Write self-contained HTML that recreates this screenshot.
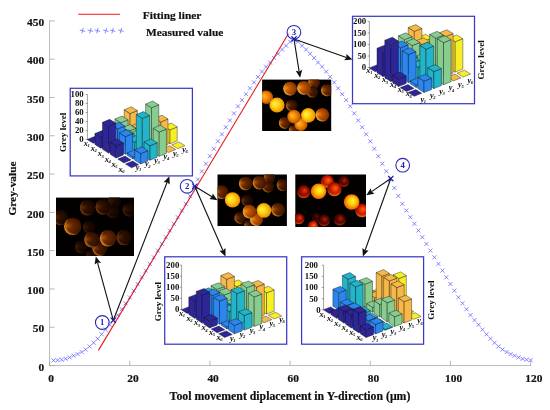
<!DOCTYPE html>
<html><head><meta charset="utf-8"><title>Grey-value vs tool displacement</title>
<style>html,body{margin:0;padding:0;background:#fff;overflow:hidden}svg{display:block}</style>
</head><body>
<svg width="550" height="410" viewBox="0 0 550 410">
<defs>
<radialGradient id="o0" cx="0.5" cy="0.5" r="0.52" fx="0.3" fy="0.4"><stop offset="0" stop-color="#fff640"/><stop offset="0.5" stop-color="#ffd014"/><stop offset="1" stop-color="#ec8600"/></radialGradient>
<radialGradient id="o1" cx="0.5" cy="0.5" r="0.52" fx="0.3" fy="0.4"><stop offset="0" stop-color="#ffc030"/><stop offset="0.5" stop-color="#f48a04"/><stop offset="1" stop-color="#b84c00"/></radialGradient>
<radialGradient id="o2" cx="0.5" cy="0.5" r="0.52" fx="0.13" fy="0.45"><stop offset="0" stop-color="#f89414"/><stop offset="0.4" stop-color="#c45800"/><stop offset="1" stop-color="#7c2e00"/></radialGradient>
<radialGradient id="o3" cx="0.5" cy="0.5" r="0.52" fx="0.13" fy="0.45"><stop offset="0" stop-color="#b05c0c"/><stop offset="0.4" stop-color="#6c2800"/><stop offset="1" stop-color="#3a1400"/></radialGradient>
<radialGradient id="o4" cx="0.5" cy="0.5" r="0.52" fx="0.13" fy="0.45"><stop offset="0" stop-color="#8a440a"/><stop offset="0.4" stop-color="#4c1c00"/><stop offset="1" stop-color="#260c00"/></radialGradient>
<radialGradient id="o5" cx="0.5" cy="0.5" r="0.52" fx="0.13" fy="0.45"><stop offset="0" stop-color="#5a2a06"/><stop offset="0.4" stop-color="#2e1000"/><stop offset="1" stop-color="#160600"/></radialGradient>
<radialGradient id="o6" cx="0.5" cy="0.5" r="0.52" fx="0.13" fy="0.45"><stop offset="0" stop-color="#3a1a04"/><stop offset="0.4" stop-color="#1e0a00"/><stop offset="1" stop-color="#0c0300"/></radialGradient>
<radialGradient id="oc2" cx="0.64" cy="0.42" r="0.66"><stop offset="0.7" stop-color="#ffc848" stop-opacity="0"/><stop offset="1" stop-color="#ffc848" stop-opacity="0.95"/></radialGradient>
<radialGradient id="oc3" cx="0.64" cy="0.42" r="0.66"><stop offset="0.7" stop-color="#ffa828" stop-opacity="0"/><stop offset="1" stop-color="#ffa828" stop-opacity="0.95"/></radialGradient>
<radialGradient id="oc4" cx="0.64" cy="0.42" r="0.66"><stop offset="0.7" stop-color="#e07818" stop-opacity="0"/><stop offset="1" stop-color="#e07818" stop-opacity="0.95"/></radialGradient>
<radialGradient id="oc5" cx="0.64" cy="0.42" r="0.66"><stop offset="0.7" stop-color="#8a400c" stop-opacity="0"/><stop offset="1" stop-color="#8a400c" stop-opacity="0.95"/></radialGradient>
<radialGradient id="oc6" cx="0.64" cy="0.42" r="0.66"><stop offset="0.7" stop-color="#4c2006" stop-opacity="0"/><stop offset="1" stop-color="#4c2006" stop-opacity="0.95"/></radialGradient>
<radialGradient id="rc2" cx="0.5" cy="0.3" r="0.72"><stop offset="0.66" stop-color="#ff9020" stop-opacity="0"/><stop offset="1" stop-color="#ff9020" stop-opacity="0.95"/></radialGradient>
<radialGradient id="rc3" cx="0.5" cy="0.3" r="0.72"><stop offset="0.66" stop-color="#ff5a10" stop-opacity="0"/><stop offset="1" stop-color="#ff5a10" stop-opacity="0.95"/></radialGradient>
<radialGradient id="rc4" cx="0.5" cy="0.3" r="0.72"><stop offset="0.66" stop-color="#c83008" stop-opacity="0"/><stop offset="1" stop-color="#c83008" stop-opacity="0.95"/></radialGradient>
<radialGradient id="rc5" cx="0.5" cy="0.3" r="0.72"><stop offset="0.66" stop-color="#781804" stop-opacity="0"/><stop offset="1" stop-color="#781804" stop-opacity="0.95"/></radialGradient>
<radialGradient id="r0" cx="0.5" cy="0.5" r="0.52" fx="0.6" fy="0.4"><stop offset="0" stop-color="#fff638"/><stop offset="0.5" stop-color="#ffc808"/><stop offset="1" stop-color="#f25000"/></radialGradient>
<radialGradient id="r1" cx="0.5" cy="0.5" r="0.52" fx="0.6" fy="0.4"><stop offset="0" stop-color="#ffb020"/><stop offset="0.5" stop-color="#f85000"/><stop offset="1" stop-color="#b01000"/></radialGradient>
<radialGradient id="r2" cx="0.5" cy="0.5" r="0.52" fx="0.6" fy="0.4"><stop offset="0" stop-color="#ff6a0c"/><stop offset="0.5" stop-color="#d82400"/><stop offset="1" stop-color="#7c0600"/></radialGradient>
<radialGradient id="r3" cx="0.5" cy="0.5" r="0.52" fx="0.6" fy="0.4"><stop offset="0" stop-color="#e83c06"/><stop offset="0.5" stop-color="#a01000"/><stop offset="1" stop-color="#480000"/></radialGradient>
<radialGradient id="r4" cx="0.5" cy="0.5" r="0.52" fx="0.6" fy="0.4"><stop offset="0" stop-color="#a82004"/><stop offset="0.5" stop-color="#640800"/><stop offset="1" stop-color="#240000"/></radialGradient>
<radialGradient id="r5" cx="0.5" cy="0.5" r="0.52" fx="0.6" fy="0.4"><stop offset="0" stop-color="#601002"/><stop offset="0.5" stop-color="#340400"/><stop offset="1" stop-color="#100000"/></radialGradient>
<clipPath id="pc1"><rect x="56" y="197.6" width="78" height="58.4"/></clipPath>
<clipPath id="pc2"><rect x="217.5" y="174.5" width="69.4" height="51.5"/></clipPath>
<clipPath id="pc3"><rect x="262.1" y="79.6" width="69.1" height="51.4"/></clipPath>
<clipPath id="pc4"><rect x="295.3" y="174.5" width="70.7" height="52.5"/></clipPath>
</defs>
<rect width="550" height="410" fill="#fff"/>
<g stroke="#bdbdbd" stroke-width="1" fill="none">
<path d="M49.55 20.4V365.55H531.2"/>
<path d="M49.5 365.55h5.2" stroke="#a4a4a4" stroke-width="0.8"/>
<path d="M49.5 327.25h5.2" stroke="#a4a4a4" stroke-width="0.8"/>
<path d="M49.5 288.96h5.2" stroke="#a4a4a4" stroke-width="0.8"/>
<path d="M49.5 250.67h5.2" stroke="#a4a4a4" stroke-width="0.8"/>
<path d="M49.5 212.37h5.2" stroke="#a4a4a4" stroke-width="0.8"/>
<path d="M49.5 174.08h5.2" stroke="#a4a4a4" stroke-width="0.8"/>
<path d="M49.5 135.78h5.2" stroke="#a4a4a4" stroke-width="0.8"/>
<path d="M49.5 97.49h5.2" stroke="#a4a4a4" stroke-width="0.8"/>
<path d="M49.5 59.19h5.2" stroke="#a4a4a4" stroke-width="0.8"/>
<path d="M49.5 20.89h5.2" stroke="#a4a4a4" stroke-width="0.8"/>
<path d="M49.55 365.6v-4.8" stroke="#a4a4a4" stroke-width="0.8"/>
<path d="M129.73 365.6v-4.8" stroke="#a4a4a4" stroke-width="0.8"/>
<path d="M209.90 365.6v-4.8" stroke="#a4a4a4" stroke-width="0.8"/>
<path d="M290.08 365.6v-4.8" stroke="#a4a4a4" stroke-width="0.8"/>
<path d="M370.25 365.6v-4.8" stroke="#a4a4a4" stroke-width="0.8"/>
<path d="M450.43 365.6v-4.8" stroke="#a4a4a4" stroke-width="0.8"/>
<path d="M530.61 365.6v-4.8" stroke="#a4a4a4" stroke-width="0.8"/>
</g>
<g font-family="'Liberation Serif', serif" font-weight="bold" font-size="11.4" fill="#111" stroke="#111" stroke-width="0.2">
<text x="44.2" y="370.7" text-anchor="end">0</text>
<text x="44.2" y="332.4" text-anchor="end">50</text>
<text x="44.2" y="294.1" text-anchor="end">100</text>
<text x="44.2" y="255.8" text-anchor="end">150</text>
<text x="44.2" y="217.5" text-anchor="end">200</text>
<text x="44.2" y="179.2" text-anchor="end">250</text>
<text x="44.2" y="140.9" text-anchor="end">300</text>
<text x="44.2" y="102.6" text-anchor="end">350</text>
<text x="44.2" y="64.3" text-anchor="end">400</text>
<text x="44.2" y="26.0" text-anchor="end">450</text>
<text x="51.0" y="381.7" text-anchor="middle">0</text>
<text x="132.9" y="381.7" text-anchor="middle">20</text>
<text x="213.1" y="381.7" text-anchor="middle">40</text>
<text x="293.3" y="381.7" text-anchor="middle">60</text>
<text x="373.5" y="381.7" text-anchor="middle">80</text>
<text x="453.6" y="381.7" text-anchor="middle">100</text>
<text x="533.8" y="381.7" text-anchor="middle">120</text>
<text x="290" y="399.6" text-anchor="middle" font-size="11.8">Tool movement diplacement in Y-direction (μm)</text>
<text transform="translate(15.6 188.5) rotate(-90)" text-anchor="middle" font-size="11.4">Grey-value</text>
<text x="142.8" y="18.5" font-size="11.4">Fitting liner</text>
<text x="146" y="35.7" font-size="11.4">Measured value</text>
</g>
<path d="M78.3 14.3H119.9" stroke="#f41414" stroke-width="1.05"/>
<g stroke="#7070ff" stroke-width="0.75" fill="none">
<path transform="translate(82.5 30.7) rotate(15)" d="M-2.8 0H2.8M0 -2.8V2.8"/>
<path transform="translate(90.4 30.7) rotate(15)" d="M-2.8 0H2.8M0 -2.8V2.8"/>
<path transform="translate(97.4 30.7) rotate(15)" d="M-2.8 0H2.8M0 -2.8V2.8"/>
<path transform="translate(105.9 30.7) rotate(15)" d="M-2.8 0H2.8M0 -2.8V2.8"/>
<path transform="translate(112.6 30.7) rotate(15)" d="M-2.8 0H2.8M0 -2.8V2.8"/>
<path transform="translate(120.9 30.7) rotate(15)" d="M-2.8 0H2.8M0 -2.8V2.8"/>
</g>
<path d="M51.6 358.4l4 4m0 -4l-4 4M55.6 358.2l4 4m0 -4l-4 4M59.6 357.7l4 4m0 -4l-4 4M63.6 356.8l4 4m0 -4l-4 4M67.6 355.4l4 4m0 -4l-4 4M71.6 353.7l4 4m0 -4l-4 4M75.6 352.1l4 4m0 -4l-4 4M79.6 350.0l4 4m0 -4l-4 4M83.6 347.5l4 4m0 -4l-4 4M87.6 344.4l4 4m0 -4l-4 4M91.6 340.8l4 4m0 -4l-4 4M95.7 336.7l4 4m0 -4l-4 4M99.7 332.3l4 4m0 -4l-4 4M103.7 327.6l4 4m0 -4l-4 4M107.7 322.8l4 4m0 -4l-4 4M111.7 318.1l4 4m0 -4l-4 4M115.7 313.1l4 4m0 -4l-4 4M119.7 307.2l4 4m0 -4l-4 4M123.7 301.3l4 4m0 -4l-4 4M127.7 295.3l4 4m0 -4l-4 4M131.7 288.7l4 4m0 -4l-4 4M135.7 282.0l4 4m0 -4l-4 4M139.8 275.3l4 4m0 -4l-4 4M143.8 268.6l4 4m0 -4l-4 4M147.8 261.9l4 4m0 -4l-4 4M151.8 255.3l4 4m0 -4l-4 4M155.8 248.6l4 4m0 -4l-4 4M159.8 241.9l4 4m0 -4l-4 4M163.8 235.2l4 4m0 -4l-4 4M167.8 228.5l4 4m0 -4l-4 4M171.8 221.8l4 4m0 -4l-4 4M175.8 215.2l4 4m0 -4l-4 4M179.8 208.5l4 4m0 -4l-4 4M183.8 201.8l4 4m0 -4l-4 4M187.9 193.9l4 4m0 -4l-4 4M191.9 185.9l4 4m0 -4l-4 4M195.9 177.5l4 4m0 -4l-4 4M199.9 169.3l4 4m0 -4l-4 4M203.9 161.7l4 4m0 -4l-4 4M207.9 154.2l4 4m0 -4l-4 4M211.9 146.8l4 4m0 -4l-4 4M215.9 139.3l4 4m0 -4l-4 4M219.9 132.3l4 4m0 -4l-4 4M223.9 125.3l4 4m0 -4l-4 4M227.9 118.4l4 4m0 -4l-4 4M232.0 111.4l4 4m0 -4l-4 4M236.0 104.3l4 4m0 -4l-4 4M240.0 98.1l4 4m0 -4l-4 4M244.0 92.2l4 4m0 -4l-4 4M248.0 86.3l4 4m0 -4l-4 4M252.0 80.4l4 4m0 -4l-4 4M256.0 74.9l4 4m0 -4l-4 4M260.0 69.6l4 4m0 -4l-4 4M264.0 64.7l4 4m0 -4l-4 4M268.0 60.5l4 4m0 -4l-4 4M272.0 55.9l4 4m0 -4l-4 4M276.1 51.8l4 4m0 -4l-4 4M280.1 47.6l4 4m0 -4l-4 4M284.1 43.7l4 4m0 -4l-4 4M288.1 39.7l4 4m0 -4l-4 4M292.1 36.5l4 4m0 -4l-4 4M296.1 39.7l4 4m0 -4l-4 4M300.1 43.7l4 4m0 -4l-4 4M304.1 47.6l4 4m0 -4l-4 4M308.1 51.8l4 4m0 -4l-4 4M312.1 55.9l4 4m0 -4l-4 4M316.1 60.5l4 4m0 -4l-4 4M320.1 64.7l4 4m0 -4l-4 4M324.2 69.6l4 4m0 -4l-4 4M328.2 74.9l4 4m0 -4l-4 4M332.2 80.4l4 4m0 -4l-4 4M336.2 86.3l4 4m0 -4l-4 4M340.2 92.2l4 4m0 -4l-4 4M344.2 98.1l4 4m0 -4l-4 4M348.2 104.3l4 4m0 -4l-4 4M352.2 111.4l4 4m0 -4l-4 4M356.2 118.4l4 4m0 -4l-4 4M360.2 125.3l4 4m0 -4l-4 4M364.2 132.3l4 4m0 -4l-4 4M368.3 139.3l4 4m0 -4l-4 4M372.3 146.8l4 4m0 -4l-4 4M376.3 154.2l4 4m0 -4l-4 4M380.3 161.7l4 4m0 -4l-4 4M384.3 169.3l4 4m0 -4l-4 4M388.3 177.5l4 4m0 -4l-4 4M392.3 185.9l4 4m0 -4l-4 4M396.3 193.9l4 4m0 -4l-4 4M400.3 201.8l4 4m0 -4l-4 4M404.3 208.5l4 4m0 -4l-4 4M408.3 215.2l4 4m0 -4l-4 4M412.4 221.8l4 4m0 -4l-4 4M416.4 228.5l4 4m0 -4l-4 4M420.4 235.2l4 4m0 -4l-4 4M424.4 241.9l4 4m0 -4l-4 4M428.4 248.6l4 4m0 -4l-4 4M432.4 255.3l4 4m0 -4l-4 4M436.4 261.9l4 4m0 -4l-4 4M440.4 268.6l4 4m0 -4l-4 4M444.4 275.3l4 4m0 -4l-4 4M448.4 282.0l4 4m0 -4l-4 4M452.4 288.7l4 4m0 -4l-4 4M456.4 295.3l4 4m0 -4l-4 4M460.5 301.3l4 4m0 -4l-4 4M464.5 307.2l4 4m0 -4l-4 4M468.5 313.1l4 4m0 -4l-4 4M472.5 318.1l4 4m0 -4l-4 4M476.5 322.8l4 4m0 -4l-4 4M480.5 327.6l4 4m0 -4l-4 4M484.5 332.3l4 4m0 -4l-4 4M488.5 336.7l4 4m0 -4l-4 4M492.5 340.8l4 4m0 -4l-4 4M496.5 344.4l4 4m0 -4l-4 4M500.5 347.5l4 4m0 -4l-4 4M504.6 350.0l4 4m0 -4l-4 4M508.6 352.1l4 4m0 -4l-4 4M512.6 353.7l4 4m0 -4l-4 4M516.6 355.4l4 4m0 -4l-4 4M520.6 356.8l4 4m0 -4l-4 4M524.6 357.7l4 4m0 -4l-4 4M528.6 358.2l4 4m0 -4l-4 4" stroke="#5c5cff" stroke-width="0.75" fill="none"/>
<path d="M98.4 350.4L288.4 33.7" stroke="#e41818" stroke-width="1.08" fill="none"/>
<rect x="56" y="197.6" width="78" height="58.4" fill="#030000"/>
<g clip-path="url(#pc1)">
<circle cx="114.6" cy="200.8" r="6.5" fill="url(#o6)"/>
<circle cx="114.6" cy="200.8" r="6.5" fill="url(#oc6)"/>
<circle cx="129.3" cy="209.6" r="6.8" fill="url(#o6)"/>
<circle cx="129.3" cy="209.6" r="6.8" fill="url(#oc6)"/>
<circle cx="112.8" cy="211.4" r="6.5" fill="url(#o6)"/>
<circle cx="112.8" cy="211.4" r="6.5" fill="url(#oc6)"/>
<circle cx="87.6" cy="207.8" r="7.7" fill="url(#o5)"/>
<circle cx="87.6" cy="207.8" r="7.7" fill="url(#oc5)"/>
<circle cx="103.2" cy="207.0" r="7.7" fill="url(#o5)"/>
<circle cx="103.2" cy="207.0" r="7.7" fill="url(#oc5)"/>
<circle cx="89.4" cy="227.1" r="6.4" fill="url(#o6)"/>
<circle cx="89.4" cy="227.1" r="6.4" fill="url(#oc6)"/>
<circle cx="81.5" cy="246.8" r="6.5" fill="url(#o6)"/>
<circle cx="81.5" cy="246.8" r="6.5" fill="url(#oc6)"/>
<circle cx="91.1" cy="254.8" r="4.9" fill="url(#o6)"/>
<circle cx="91.1" cy="254.8" r="4.9" fill="url(#oc6)"/>
<circle cx="124.1" cy="237.5" r="7.7" fill="url(#o5)"/>
<circle cx="124.1" cy="237.5" r="7.7" fill="url(#oc5)"/>
<circle cx="60.7" cy="217.6" r="7.7" fill="url(#o5)"/>
<circle cx="60.7" cy="217.6" r="7.7" fill="url(#oc5)"/>
<circle cx="99.8" cy="248.5" r="7.4" fill="url(#o4)"/>
<circle cx="99.8" cy="248.5" r="7.4" fill="url(#oc4)"/>
<circle cx="92.0" cy="239.7" r="7.7" fill="url(#o4)"/>
<circle cx="92.0" cy="239.7" r="7.7" fill="url(#oc4)"/>
<circle cx="72.8" cy="226.4" r="8.7" fill="url(#o3)"/>
<circle cx="72.8" cy="226.4" r="8.7" fill="url(#oc3)"/>
<circle cx="108.1" cy="238.3" r="8.3" fill="url(#o3)"/>
<circle cx="108.1" cy="238.3" r="8.3" fill="url(#oc3)"/>
</g>
<rect x="217.5" y="174.5" width="69.4" height="51.5" fill="#030000"/>
<g clip-path="url(#pc2)">
<circle cx="269.6" cy="177.3" r="5.8" fill="url(#o4)"/>
<circle cx="269.6" cy="177.3" r="5.8" fill="url(#oc4)"/>
<circle cx="282.7" cy="185.1" r="6.0" fill="url(#o4)"/>
<circle cx="282.7" cy="185.1" r="6.0" fill="url(#oc4)"/>
<circle cx="268.1" cy="186.7" r="5.8" fill="url(#o4)"/>
<circle cx="268.1" cy="186.7" r="5.8" fill="url(#oc4)"/>
<circle cx="245.7" cy="183.5" r="6.8" fill="url(#o3)"/>
<circle cx="245.7" cy="183.5" r="6.8" fill="url(#oc3)"/>
<circle cx="259.5" cy="182.8" r="6.8" fill="url(#o3)"/>
<circle cx="259.5" cy="182.8" r="6.8" fill="url(#oc3)"/>
<circle cx="247.2" cy="200.5" r="5.7" fill="url(#o5)"/>
<circle cx="247.2" cy="200.5" r="5.7" fill="url(#oc5)"/>
<circle cx="240.2" cy="217.9" r="5.8" fill="url(#o4)"/>
<circle cx="240.2" cy="217.9" r="5.8" fill="url(#oc4)"/>
<circle cx="248.7" cy="224.9" r="4.3" fill="url(#o4)"/>
<circle cx="248.7" cy="224.9" r="4.3" fill="url(#oc4)"/>
<circle cx="278.1" cy="209.7" r="6.8" fill="url(#o3)"/>
<circle cx="278.1" cy="209.7" r="6.8" fill="url(#oc3)"/>
<circle cx="221.7" cy="192.1" r="6.8" fill="url(#o3)"/>
<circle cx="221.7" cy="192.1" r="6.8" fill="url(#oc3)"/>
<circle cx="256.5" cy="219.4" r="6.5" fill="url(#o2)"/>
<circle cx="256.5" cy="219.4" r="6.5" fill="url(#oc2)"/>
<circle cx="249.5" cy="211.6" r="6.8" fill="url(#o2)"/>
<circle cx="249.5" cy="211.6" r="6.8" fill="url(#oc2)"/>
<circle cx="232.5" cy="199.9" r="7.7" fill="url(#o0)"/>
<circle cx="263.9" cy="210.4" r="7.4" fill="url(#o0)"/>
</g>
<rect x="262.1" y="79.6" width="69.1" height="51.4" fill="#030000"/>
<g clip-path="url(#pc3)">
<circle cx="314.0" cy="82.4" r="5.8" fill="url(#o3)"/>
<circle cx="314.0" cy="82.4" r="5.8" fill="url(#oc3)"/>
<circle cx="327.1" cy="90.2" r="6.0" fill="url(#o3)"/>
<circle cx="327.1" cy="90.2" r="6.0" fill="url(#oc3)"/>
<circle cx="312.4" cy="91.8" r="5.8" fill="url(#o4)"/>
<circle cx="312.4" cy="91.8" r="5.8" fill="url(#oc4)"/>
<circle cx="290.1" cy="88.6" r="6.8" fill="url(#o2)"/>
<circle cx="290.1" cy="88.6" r="6.8" fill="url(#oc2)"/>
<circle cx="304.0" cy="87.9" r="6.8" fill="url(#o2)"/>
<circle cx="304.0" cy="87.9" r="6.8" fill="url(#oc2)"/>
<circle cx="291.7" cy="105.5" r="5.7" fill="url(#o4)"/>
<circle cx="291.7" cy="105.5" r="5.7" fill="url(#oc4)"/>
<circle cx="284.7" cy="122.9" r="5.8" fill="url(#o3)"/>
<circle cx="284.7" cy="122.9" r="5.8" fill="url(#oc3)"/>
<circle cx="293.2" cy="129.9" r="4.3" fill="url(#o3)"/>
<circle cx="293.2" cy="129.9" r="4.3" fill="url(#oc3)"/>
<circle cx="322.4" cy="114.7" r="6.8" fill="url(#o2)"/>
<circle cx="322.4" cy="114.7" r="6.8" fill="url(#oc2)"/>
<circle cx="266.2" cy="97.2" r="6.8" fill="url(#o1)"/>
<circle cx="300.9" cy="124.4" r="6.5" fill="url(#o1)"/>
<circle cx="294.0" cy="116.6" r="6.8" fill="url(#o1)"/>
<circle cx="277.0" cy="105.0" r="7.6" fill="url(#o0)"/>
<circle cx="308.3" cy="115.4" r="7.3" fill="url(#o0)"/>
</g>
<rect x="295.3" y="174.5" width="70.7" height="52.5" fill="#030000"/>
<g clip-path="url(#pc4)">
<circle cx="343.8" cy="181.3" r="5.5" fill="url(#r4)"/>
<circle cx="343.8" cy="181.3" r="5.5" fill="url(#rc4)"/>
<circle cx="316.2" cy="217.1" r="4.4" fill="url(#r5)"/>
<circle cx="316.2" cy="217.1" r="4.4" fill="url(#rc5)"/>
<circle cx="339.8" cy="219.5" r="5.9" fill="url(#r4)"/>
<circle cx="339.8" cy="219.5" r="5.9" fill="url(#rc4)"/>
<circle cx="324.1" cy="220.3" r="5.9" fill="url(#r4)"/>
<circle cx="324.1" cy="220.3" r="5.9" fill="url(#rc4)"/>
<circle cx="298.9" cy="218.7" r="5.5" fill="url(#r3)"/>
<circle cx="298.9" cy="218.7" r="5.5" fill="url(#rc3)"/>
<circle cx="313.1" cy="225.9" r="5.1" fill="url(#r2)"/>
<circle cx="313.1" cy="225.9" r="5.1" fill="url(#rc2)"/>
<circle cx="303.7" cy="191.6" r="6.6" fill="url(#r3)"/>
<circle cx="303.7" cy="191.6" r="6.6" fill="url(#rc3)"/>
<circle cx="327.3" cy="181.3" r="6.4" fill="url(#r2)"/>
<circle cx="327.3" cy="181.3" r="6.4" fill="url(#rc2)"/>
<circle cx="334.4" cy="189.3" r="7.0" fill="url(#r2)"/>
<circle cx="334.4" cy="189.3" r="7.0" fill="url(#rc2)"/>
<circle cx="362.0" cy="210.4" r="6.8" fill="url(#r2)"/>
<circle cx="362.0" cy="210.4" r="6.8" fill="url(#rc2)"/>
<circle cx="351.7" cy="202.0" r="7.8" fill="url(#r0)"/>
<circle cx="318.6" cy="191.3" r="7.8" fill="url(#r0)"/>
</g>
<rect x="70.2" y="88.3" width="122.2" height="87.6" fill="#fff" stroke="#3a3ac6" stroke-width="1.25"/>
<g stroke="#444" stroke-width="0.5" fill="none">
<path d="M87.4 139.5V94.5"/>
<path d="M87.4 139.5h-1.8"/>
<path d="M87.4 130.5h-1.8"/>
<path d="M87.4 121.5h-1.8"/>
<path d="M87.4 112.5h-1.8"/>
<path d="M87.4 103.5h-1.8"/>
<path d="M87.4 94.5h-1.8"/>
</g>
<g font-family="'Liberation Serif', serif" font-size="8.8" font-weight="bold" fill="#111" text-anchor="end">
<text x="83.7" y="142.4">0</text>
<text x="83.7" y="133.4">20</text>
<text x="83.7" y="124.4">40</text>
<text x="83.7" y="115.4">60</text>
<text x="83.7" y="106.4">80</text>
<text x="83.7" y="97.4">100</text>
</g>
<g stroke="#101018" stroke-opacity="0.8" stroke-width="0.5" stroke-linejoin="round">
<polygon points="133.4,120.4 139.4,124.2 146.6,121.2 140.6,117.4" fill="#f8ee25"/>
<polygon points="124.2,124.2 130.1,128.0 130.1,113.6 124.2,109.8" fill="#f6b846"/>
<polygon points="130.1,128.0 137.4,125.0 137.4,110.6 130.1,113.6" fill="#f6b846"/>
<polygon points="124.2,109.8 130.1,113.6 137.4,110.6 131.4,106.8" fill="#f6b846"/>
<polygon points="114.9,128.0 120.9,131.8 120.9,122.8 114.9,119.0" fill="#86cd8f"/>
<polygon points="120.9,131.8 128.1,128.9 128.1,119.9 120.9,122.8" fill="#86cd8f"/>
<polygon points="114.9,119.0 120.9,122.8 128.1,119.9 122.1,116.0" fill="#86cd8f"/>
<polygon points="105.7,131.8 111.7,135.7 111.7,131.2 105.7,127.3" fill="#22b4c9"/>
<polygon points="111.7,135.7 118.9,132.7 118.9,128.2 111.7,131.2" fill="#22b4c9"/>
<polygon points="105.7,127.3 111.7,131.2 118.9,128.2 112.9,124.4" fill="#22b4c9"/>
<polygon points="96.4,135.7 102.4,139.5 109.6,136.5 103.7,132.7" fill="#2b87ee"/>
<polygon points="87.2,139.5 93.2,143.3 100.4,140.3 94.4,136.5" fill="#2e2597"/>
<polygon points="141.1,125.3 147.0,129.1 154.3,126.1 148.3,122.3" fill="#f8ee25"/>
<polygon points="131.8,129.1 137.8,132.9 137.8,129.3 131.8,125.5" fill="#f6b846"/>
<polygon points="137.8,132.9 145.0,129.9 145.0,126.3 137.8,129.3" fill="#f6b846"/>
<polygon points="131.8,125.5 137.8,129.3 145.0,126.3 139.0,122.5" fill="#f6b846"/>
<polygon points="122.6,132.9 128.6,136.7 128.6,131.3 122.6,127.5" fill="#86cd8f"/>
<polygon points="128.6,136.7 135.8,133.8 135.8,128.4 128.6,131.3" fill="#86cd8f"/>
<polygon points="122.6,127.5 128.6,131.3 135.8,128.4 129.8,124.5" fill="#86cd8f"/>
<polygon points="113.3,136.7 119.3,140.6 119.3,133.8 113.3,130.0" fill="#22b4c9"/>
<polygon points="119.3,140.6 126.5,137.6 126.5,130.8 119.3,133.8" fill="#22b4c9"/>
<polygon points="113.3,130.0 119.3,133.8 126.5,130.8 120.6,127.0" fill="#22b4c9"/>
<polygon points="104.1,140.6 110.1,144.4 110.1,139.0 104.1,135.2" fill="#2b87ee"/>
<polygon points="110.1,144.4 117.3,141.4 117.3,136.0 110.1,139.0" fill="#2b87ee"/>
<polygon points="104.1,135.2 110.1,139.0 117.3,136.0 111.3,132.2" fill="#2b87ee"/>
<polygon points="94.9,144.4 100.8,148.2 100.8,137.4 94.9,133.6" fill="#2e2597"/>
<polygon points="100.8,148.2 108.1,145.2 108.1,134.4 100.8,137.4" fill="#2e2597"/>
<polygon points="94.9,133.6 100.8,137.4 108.1,134.4 102.1,130.6" fill="#2e2597"/>
<polygon points="148.7,130.2 154.7,134.0 161.9,131.0 155.9,127.2" fill="#f8ee25"/>
<polygon points="139.5,134.0 145.5,137.8 145.5,135.6 139.5,131.7" fill="#f6b846"/>
<polygon points="145.5,137.8 152.7,134.8 152.7,132.6 145.5,135.6" fill="#f6b846"/>
<polygon points="139.5,131.7 145.5,135.6 152.7,132.6 146.7,128.8" fill="#f6b846"/>
<polygon points="130.2,137.8 136.2,141.6 136.2,137.1 130.2,133.3" fill="#86cd8f"/>
<polygon points="136.2,141.6 143.4,138.7 143.4,134.2 136.2,137.1" fill="#86cd8f"/>
<polygon points="130.2,133.3 136.2,137.1 143.4,134.2 137.5,130.3" fill="#86cd8f"/>
<polygon points="121.0,141.6 127.0,145.5 127.0,136.5 121.0,132.6" fill="#22b4c9"/>
<polygon points="127.0,145.5 134.2,142.5 134.2,133.5 127.0,136.5" fill="#22b4c9"/>
<polygon points="121.0,132.6 127.0,136.5 134.2,133.5 128.2,129.7" fill="#22b4c9"/>
<polygon points="111.8,145.5 117.7,149.3 117.7,129.0 111.8,125.2" fill="#2b87ee"/>
<polygon points="117.7,149.3 125.0,146.3 125.0,126.1 117.7,129.0" fill="#2b87ee"/>
<polygon points="111.8,125.2 117.7,129.0 125.0,126.1 119.0,122.2" fill="#2b87ee"/>
<polygon points="102.5,149.3 108.5,153.1 108.5,126.1 102.5,122.3" fill="#2e2597"/>
<polygon points="108.5,153.1 115.7,150.1 115.7,123.1 108.5,126.1" fill="#2e2597"/>
<polygon points="102.5,122.3 108.5,126.1 115.7,123.1 109.7,119.3" fill="#2e2597"/>
<polygon points="156.4,135.1 162.4,138.9 169.6,135.9 163.6,132.1" fill="#f8ee25"/>
<polygon points="147.1,138.9 153.1,142.7 153.1,140.5 147.1,136.6" fill="#f6b846"/>
<polygon points="153.1,142.7 160.3,139.7 160.3,137.5 153.1,140.5" fill="#f6b846"/>
<polygon points="147.1,136.6 153.1,140.5 160.3,137.5 154.4,133.7" fill="#f6b846"/>
<polygon points="137.9,142.7 143.9,146.5 143.9,142.0 137.9,138.2" fill="#86cd8f"/>
<polygon points="143.9,146.5 151.1,143.6 151.1,139.1 143.9,142.0" fill="#86cd8f"/>
<polygon points="137.9,138.2 143.9,142.0 151.1,139.1 145.1,135.2" fill="#86cd8f"/>
<polygon points="128.7,146.5 134.6,150.4 134.6,142.3 128.7,138.4" fill="#22b4c9"/>
<polygon points="134.6,150.4 141.9,147.4 141.9,139.3 134.6,142.3" fill="#22b4c9"/>
<polygon points="128.7,138.4 134.6,142.3 141.9,139.3 135.9,135.5" fill="#22b4c9"/>
<polygon points="119.4,150.4 125.4,154.2 125.4,136.6 119.4,132.8" fill="#2b87ee"/>
<polygon points="125.4,154.2 132.6,151.2 132.6,133.7 125.4,136.6" fill="#2b87ee"/>
<polygon points="119.4,132.8 125.4,136.6 132.6,133.7 126.6,129.8" fill="#2b87ee"/>
<polygon points="110.2,154.2 116.2,158.0 116.2,145.9 110.2,142.0" fill="#2e2597"/>
<polygon points="116.2,158.0 123.4,155.0 123.4,142.9 116.2,145.9" fill="#2e2597"/>
<polygon points="110.2,142.0 116.2,145.9 123.4,142.9 117.4,139.0" fill="#2e2597"/>
<polygon points="164.0,140.0 170.0,143.8 170.0,129.9 164.0,126.0" fill="#f8ee25"/>
<polygon points="170.0,143.8 177.2,140.8 177.2,126.9 170.0,129.9" fill="#f8ee25"/>
<polygon points="164.0,126.0 170.0,129.9 177.2,126.9 171.3,123.0" fill="#f8ee25"/>
<polygon points="154.8,143.8 160.8,147.6 160.8,122.0 154.8,118.1" fill="#f6b846"/>
<polygon points="160.8,147.6 168.0,144.6 168.0,119.0 160.8,122.0" fill="#f6b846"/>
<polygon points="154.8,118.1 160.8,122.0 168.0,119.0 162.0,115.2" fill="#f6b846"/>
<polygon points="145.6,147.6 151.5,151.4 151.5,107.8 145.6,104.0" fill="#86cd8f"/>
<polygon points="151.5,151.4 158.8,148.5 158.8,104.8 151.5,107.8" fill="#86cd8f"/>
<polygon points="145.6,104.0 151.5,107.8 158.8,104.8 152.8,101.0" fill="#86cd8f"/>
<polygon points="136.3,151.4 142.3,155.3 142.3,118.4 136.3,114.5" fill="#22b4c9"/>
<polygon points="142.3,155.3 149.5,152.3 149.5,115.4 142.3,118.4" fill="#22b4c9"/>
<polygon points="136.3,114.5 142.3,118.4 149.5,115.4 143.5,111.6" fill="#22b4c9"/>
<polygon points="127.1,155.3 133.1,159.1 133.1,156.8 127.1,153.0" fill="#2b87ee"/>
<polygon points="133.1,159.1 140.3,156.1 140.3,153.9 133.1,156.8" fill="#2b87ee"/>
<polygon points="127.1,153.0 133.1,156.8 140.3,153.9 134.3,150.0" fill="#2b87ee"/>
<polygon points="117.8,159.1 123.8,162.9 131.0,159.9 125.1,156.1" fill="#2e2597"/>
<polygon points="171.7,144.9 177.7,148.7 184.9,145.7 178.9,141.9" fill="#f8ee25"/>
<polygon points="162.5,148.7 168.4,152.5 175.7,149.5 169.7,145.7" fill="#f6b846"/>
<polygon points="153.2,152.5 159.2,156.3 159.2,132.0 153.2,128.2" fill="#86cd8f"/>
<polygon points="159.2,156.3 166.4,153.4 166.4,129.1 159.2,132.0" fill="#86cd8f"/>
<polygon points="153.2,128.2 159.2,132.0 166.4,129.1 160.4,125.2" fill="#86cd8f"/>
<polygon points="144.0,156.3 150.0,160.2 150.0,145.8 144.0,141.9" fill="#22b4c9"/>
<polygon points="150.0,160.2 157.2,157.2 157.2,142.8 150.0,145.8" fill="#22b4c9"/>
<polygon points="144.0,141.9 150.0,145.8 157.2,142.8 151.2,139.0" fill="#22b4c9"/>
<polygon points="134.7,160.2 140.7,164.0 140.7,153.6 134.7,149.8" fill="#2b87ee"/>
<polygon points="140.7,164.0 147.9,161.0 147.9,150.7 140.7,153.6" fill="#2b87ee"/>
<polygon points="134.7,149.8 140.7,153.6 147.9,150.7 142.0,146.8" fill="#2b87ee"/>
<polygon points="125.5,164.0 131.5,167.8 138.7,164.8 132.7,161.0" fill="#2e2597"/>
</g>
<text transform="translate(66 132.4) rotate(-90)" text-anchor="middle" font-family="'Liberation Serif', serif" font-weight="bold" font-size="9.05" fill="#111">Grey level</text>
<g font-family="'Liberation Serif', serif" font-size="8.3" font-style="italic" font-weight="bold" fill="#111" text-anchor="middle">
<text x="86.8" y="146.1">x<tspan font-size="4.6" dy="1.2" dx="-0.4">1</tspan></text>
<text x="93.8" y="151.2">x<tspan font-size="4.6" dy="1.2" dx="-0.4">2</tspan></text>
<text x="100.7" y="156.4">x<tspan font-size="4.6" dy="1.2" dx="-0.4">3</tspan></text>
<text x="107.7" y="161.5">x<tspan font-size="4.6" dy="1.2" dx="-0.4">4</tspan></text>
<text x="114.6" y="166.7">x<tspan font-size="4.6" dy="1.2" dx="-0.4">5</tspan></text>
<text x="121.6" y="171.8">x<tspan font-size="4.6" dy="1.2" dx="-0.4">6</tspan></text>
<text x="138.5" y="170.0">y<tspan font-size="4.6" dy="1.2" dx="-0.4">1</tspan></text>
<text x="147.8" y="166.4">y<tspan font-size="4.6" dy="1.2" dx="-0.4">2</tspan></text>
<text x="157.1" y="162.8">y<tspan font-size="4.6" dy="1.2" dx="-0.4">3</tspan></text>
<text x="166.4" y="159.2">y<tspan font-size="4.6" dy="1.2" dx="-0.4">4</tspan></text>
<text x="175.7" y="155.6">y<tspan font-size="4.6" dy="1.2" dx="-0.4">5</tspan></text>
<text x="185.0" y="152.0">y<tspan font-size="4.6" dy="1.2" dx="-0.4">6</tspan></text>
</g>
<rect x="352.5" y="16.3" width="122.0" height="87.4" fill="#fff" stroke="#3a3ac6" stroke-width="1.25"/>
<g stroke="#444" stroke-width="0.5" fill="none">
<path d="M369.4 67.5V21.5"/>
<path d="M369.4 67.5h-1.8"/>
<path d="M369.4 56.0h-1.8"/>
<path d="M369.4 44.5h-1.8"/>
<path d="M369.4 33.0h-1.8"/>
<path d="M369.4 21.5h-1.8"/>
</g>
<g font-family="'Liberation Serif', serif" font-size="8.8" font-weight="bold" fill="#111" text-anchor="end">
<text x="366.2" y="70.4">0</text>
<text x="366.2" y="58.9">50</text>
<text x="366.2" y="47.4">100</text>
<text x="366.2" y="35.9">150</text>
<text x="366.2" y="24.4">200</text>
</g>
<g stroke="#101018" stroke-opacity="0.8" stroke-width="0.5" stroke-linejoin="round">
<polygon points="418.0,48.6 424.0,52.4 424.0,41.2 418.0,37.3" fill="#f8ee25"/>
<polygon points="424.0,52.4 431.6,49.4 431.6,38.1 424.0,41.2" fill="#f8ee25"/>
<polygon points="418.0,37.3 424.0,41.2 431.6,38.1 425.6,34.3" fill="#f8ee25"/>
<polygon points="408.2,52.4 414.3,56.3 414.3,31.4 408.2,27.6" fill="#f6b846"/>
<polygon points="414.3,56.3 421.9,53.3 421.9,28.4 414.3,31.4" fill="#f6b846"/>
<polygon points="408.2,27.6 414.3,31.4 421.9,28.4 415.8,24.6" fill="#f6b846"/>
<polygon points="398.4,56.3 404.5,60.1 404.5,39.7 398.4,35.8" fill="#86cd8f"/>
<polygon points="404.5,60.1 412.1,57.1 412.1,36.7 404.5,39.7" fill="#86cd8f"/>
<polygon points="398.4,35.8 404.5,39.7 412.1,36.7 406.0,32.8" fill="#86cd8f"/>
<polygon points="388.7,60.2 394.8,64.0 394.8,54.8 388.7,51.0" fill="#22b4c9"/>
<polygon points="394.8,64.0 402.4,61.0 402.4,51.8 394.8,54.8" fill="#22b4c9"/>
<polygon points="388.7,51.0 394.8,54.8 402.4,51.8 396.3,48.0" fill="#22b4c9"/>
<polygon points="378.9,64.0 385.0,67.9 385.0,58.7 378.9,54.8" fill="#2b87ee"/>
<polygon points="385.0,67.9 392.6,64.9 392.6,55.7 385.0,58.7" fill="#2b87ee"/>
<polygon points="378.9,54.8 385.0,58.7 392.6,55.7 386.5,51.8" fill="#2b87ee"/>
<polygon points="369.2,67.9 375.2,71.7 382.8,68.7 376.8,64.9" fill="#2e2597"/>
<polygon points="425.8,53.5 431.8,57.3 431.8,52.7 425.8,48.9" fill="#f8ee25"/>
<polygon points="431.8,57.3 439.4,54.3 439.4,49.7 431.8,52.7" fill="#f8ee25"/>
<polygon points="425.8,48.9 431.8,52.7 439.4,49.7 433.4,45.9" fill="#f8ee25"/>
<polygon points="416.0,57.4 422.1,61.2 422.1,44.6 416.0,40.8" fill="#f6b846"/>
<polygon points="422.1,61.2 429.7,58.2 429.7,41.6 422.1,44.6" fill="#f6b846"/>
<polygon points="416.0,40.8 422.1,44.6 429.7,41.6 423.6,37.8" fill="#f6b846"/>
<polygon points="406.2,61.2 412.3,65.1 412.3,45.5 406.2,41.7" fill="#86cd8f"/>
<polygon points="412.3,65.1 419.9,62.1 419.9,42.5 412.3,45.5" fill="#86cd8f"/>
<polygon points="406.2,41.7 412.3,45.5 419.9,42.5 413.8,38.7" fill="#86cd8f"/>
<polygon points="396.5,65.1 402.6,68.9 402.6,57.4 396.5,53.6" fill="#22b4c9"/>
<polygon points="402.6,68.9 410.2,65.9 410.2,54.4 402.6,57.4" fill="#22b4c9"/>
<polygon points="396.5,53.6 402.6,57.4 410.2,54.4 404.1,50.6" fill="#22b4c9"/>
<polygon points="386.7,68.9 392.8,72.8 392.8,59.0 386.7,55.1" fill="#2b87ee"/>
<polygon points="392.8,72.8 400.4,69.8 400.4,56.0 392.8,59.0" fill="#2b87ee"/>
<polygon points="386.7,55.1 392.8,59.0 400.4,56.0 394.3,52.1" fill="#2b87ee"/>
<polygon points="377.0,72.8 383.0,76.6 383.0,52.0 377.0,48.2" fill="#2e2597"/>
<polygon points="383.0,76.6 390.6,73.6 390.6,49.0 383.0,52.0" fill="#2e2597"/>
<polygon points="377.0,48.2 383.0,52.0 390.6,49.0 384.6,45.2" fill="#2e2597"/>
<polygon points="433.6,58.4 439.6,62.3 439.6,60.0 433.6,56.1" fill="#f8ee25"/>
<polygon points="439.6,62.3 447.2,59.3 447.2,57.0 439.6,60.0" fill="#f8ee25"/>
<polygon points="433.6,56.1 439.6,60.0 447.2,57.0 441.2,53.1" fill="#f8ee25"/>
<polygon points="423.8,62.3 429.9,66.1 429.9,59.2 423.8,55.4" fill="#f6b846"/>
<polygon points="429.9,66.1 437.5,63.1 437.5,56.2 429.9,59.2" fill="#f6b846"/>
<polygon points="423.8,55.4 429.9,59.2 437.5,56.2 431.4,52.4" fill="#f6b846"/>
<polygon points="414.0,66.1 420.1,70.0 420.1,60.8 414.0,56.9" fill="#86cd8f"/>
<polygon points="420.1,70.0 427.7,67.0 427.7,57.8 420.1,60.8" fill="#86cd8f"/>
<polygon points="414.0,56.9 420.1,60.8 427.7,57.8 421.6,53.9" fill="#86cd8f"/>
<polygon points="404.3,70.0 410.4,73.8 410.4,60.0 404.3,56.2" fill="#22b4c9"/>
<polygon points="410.4,73.8 418.0,70.8 418.0,57.0 410.4,60.0" fill="#22b4c9"/>
<polygon points="404.3,56.2 410.4,60.0 418.0,57.0 411.9,53.2" fill="#22b4c9"/>
<polygon points="394.5,73.9 400.6,77.7 400.6,47.8 394.5,44.0" fill="#2b87ee"/>
<polygon points="400.6,77.7 408.2,74.7 408.2,44.8 400.6,47.8" fill="#2b87ee"/>
<polygon points="394.5,44.0 400.6,47.8 408.2,44.8 402.1,41.0" fill="#2b87ee"/>
<polygon points="384.8,77.7 390.8,81.6 390.8,44.1 384.8,40.2" fill="#2e2597"/>
<polygon points="390.8,81.6 398.4,78.6 398.4,41.1 390.8,44.1" fill="#2e2597"/>
<polygon points="384.8,40.2 390.8,44.1 398.4,41.1 392.4,37.2" fill="#2e2597"/>
<polygon points="441.4,63.3 447.4,67.2 447.4,64.9 441.4,61.0" fill="#f8ee25"/>
<polygon points="447.4,67.2 455.0,64.2 455.0,61.9 447.4,64.9" fill="#f8ee25"/>
<polygon points="441.4,61.0 447.4,64.9 455.0,61.9 449.0,58.0" fill="#f8ee25"/>
<polygon points="431.6,67.2 437.7,71.0 437.7,64.1 431.6,60.3" fill="#f6b846"/>
<polygon points="437.7,71.0 445.3,68.0 445.3,61.1 437.7,64.1" fill="#f6b846"/>
<polygon points="431.6,60.3 437.7,64.1 445.3,61.1 439.2,57.3" fill="#f6b846"/>
<polygon points="421.8,71.1 427.9,74.9 427.9,65.7 421.8,61.9" fill="#86cd8f"/>
<polygon points="427.9,74.9 435.5,71.9 435.5,62.7 427.9,65.7" fill="#86cd8f"/>
<polygon points="421.8,61.9 427.9,65.7 435.5,62.7 429.4,58.9" fill="#86cd8f"/>
<polygon points="412.1,74.9 418.2,78.8 418.2,67.3 412.1,63.4" fill="#22b4c9"/>
<polygon points="418.2,78.8 425.8,75.8 425.8,64.3 418.2,67.3" fill="#22b4c9"/>
<polygon points="412.1,63.4 418.2,67.3 425.8,64.3 419.7,60.4" fill="#22b4c9"/>
<polygon points="402.3,78.8 408.4,82.6 408.4,54.6 402.3,50.7" fill="#2b87ee"/>
<polygon points="408.4,82.6 416.0,79.6 416.0,51.6 408.4,54.6" fill="#2b87ee"/>
<polygon points="402.3,50.7 408.4,54.6 416.0,51.6 409.9,47.7" fill="#2b87ee"/>
<polygon points="392.6,82.6 398.6,86.5 398.6,78.9 392.6,75.1" fill="#2e2597"/>
<polygon points="398.6,86.5 406.2,83.5 406.2,75.9 398.6,78.9" fill="#2e2597"/>
<polygon points="392.6,75.1 398.6,78.9 406.2,75.9 400.2,72.0" fill="#2e2597"/>
<polygon points="449.2,68.3 455.2,72.1 455.2,41.7 449.2,37.9" fill="#f8ee25"/>
<polygon points="455.2,72.1 462.8,69.1 462.8,38.7 455.2,41.7" fill="#f8ee25"/>
<polygon points="449.2,37.9 455.2,41.7 462.8,38.7 456.8,34.9" fill="#f8ee25"/>
<polygon points="439.4,72.1 445.5,76.0 445.5,36.6 439.4,32.8" fill="#f6b846"/>
<polygon points="445.5,76.0 453.1,73.0 453.1,33.6 445.5,36.6" fill="#f6b846"/>
<polygon points="439.4,32.8 445.5,36.6 453.1,33.6 447.0,29.8" fill="#f6b846"/>
<polygon points="429.6,76.0 435.7,79.8 435.7,38.2 429.6,34.4" fill="#86cd8f"/>
<polygon points="435.7,79.8 443.3,76.8 443.3,35.2 435.7,38.2" fill="#86cd8f"/>
<polygon points="429.6,34.4 435.7,38.2 443.3,35.2 437.2,31.3" fill="#86cd8f"/>
<polygon points="419.9,79.8 426.0,83.7 426.0,49.2 419.9,45.3" fill="#22b4c9"/>
<polygon points="426.0,83.7 433.6,80.7 433.6,46.2 426.0,49.2" fill="#22b4c9"/>
<polygon points="419.9,45.3 426.0,49.2 433.6,46.2 427.5,42.3" fill="#22b4c9"/>
<polygon points="410.1,83.7 416.2,87.5 416.2,84.8 410.1,80.9" fill="#2b87ee"/>
<polygon points="416.2,87.5 423.8,84.5 423.8,81.8 416.2,84.8" fill="#2b87ee"/>
<polygon points="410.1,80.9 416.2,84.8 423.8,81.8 417.7,77.9" fill="#2b87ee"/>
<polygon points="400.4,87.6 406.4,91.4 414.0,88.4 408.0,84.6" fill="#2e2597"/>
<polygon points="457.0,73.2 463.0,77.0 470.6,74.0 464.6,70.2" fill="#f8ee25"/>
<polygon points="447.2,77.0 453.3,80.9 460.9,77.9 454.8,74.0" fill="#f6b846"/>
<polygon points="437.4,80.9 443.5,84.7 443.5,42.7 437.4,38.8" fill="#86cd8f"/>
<polygon points="443.5,84.7 451.1,81.7 451.1,39.6 443.5,42.7" fill="#86cd8f"/>
<polygon points="437.4,38.8 443.5,42.7 451.1,39.6 445.0,35.8" fill="#86cd8f"/>
<polygon points="427.7,84.8 433.8,88.6 433.8,71.6 427.7,67.7" fill="#22b4c9"/>
<polygon points="433.8,88.6 441.4,85.6 441.4,68.6 433.8,71.6" fill="#22b4c9"/>
<polygon points="427.7,67.7 433.8,71.6 441.4,68.6 435.3,64.7" fill="#22b4c9"/>
<polygon points="417.9,88.6 424.0,92.5 424.0,81.2 417.9,77.4" fill="#2b87ee"/>
<polygon points="424.0,92.5 431.6,89.5 431.6,78.2 424.0,81.2" fill="#2b87ee"/>
<polygon points="417.9,77.4 424.0,81.2 431.6,78.2 425.5,74.3" fill="#2b87ee"/>
<polygon points="408.2,92.5 414.2,96.3 421.8,93.3 415.8,89.5" fill="#2e2597"/>
</g>
<text transform="translate(483.8 59.8) rotate(-90)" text-anchor="middle" font-family="'Liberation Serif', serif" font-weight="bold" font-size="9.05" fill="#111">Grey level</text>
<g font-family="'Liberation Serif', serif" font-size="8.3" font-style="italic" font-weight="bold" fill="#111" text-anchor="middle">
<text x="369.4" y="72.9">x<tspan font-size="4.6" dy="1.2" dx="-0.4">1</tspan></text>
<text x="377.3" y="77.6">x<tspan font-size="4.6" dy="1.2" dx="-0.4">2</tspan></text>
<text x="385.1" y="82.3">x<tspan font-size="4.6" dy="1.2" dx="-0.4">3</tspan></text>
<text x="393.0" y="86.9">x<tspan font-size="4.6" dy="1.2" dx="-0.4">4</tspan></text>
<text x="400.8" y="91.6">x<tspan font-size="4.6" dy="1.2" dx="-0.4">5</tspan></text>
<text x="408.7" y="96.3">x<tspan font-size="4.6" dy="1.2" dx="-0.4">6</tspan></text>
<text x="423.3" y="101.7">y<tspan font-size="4.6" dy="1.2" dx="-0.4">1</tspan></text>
<text x="432.7" y="97.9">y<tspan font-size="4.6" dy="1.2" dx="-0.4">2</tspan></text>
<text x="442.1" y="94.1">y<tspan font-size="4.6" dy="1.2" dx="-0.4">3</tspan></text>
<text x="451.5" y="90.3">y<tspan font-size="4.6" dy="1.2" dx="-0.4">4</tspan></text>
<text x="460.9" y="86.5">y<tspan font-size="4.6" dy="1.2" dx="-0.4">5</tspan></text>
<text x="470.3" y="82.7">y<tspan font-size="4.6" dy="1.2" dx="-0.4">6</tspan></text>
</g>
<rect x="164.7" y="256.8" width="122.0" height="87.4" fill="#fff" stroke="#3a3ac6" stroke-width="1.25"/>
<g stroke="#444" stroke-width="0.5" fill="none">
<path d="M181.6 309.4V265.1"/>
<path d="M181.6 309.4h-1.8"/>
<path d="M181.6 298.3h-1.8"/>
<path d="M181.6 287.2h-1.8"/>
<path d="M181.6 276.2h-1.8"/>
<path d="M181.6 265.1h-1.8"/>
</g>
<g font-family="'Liberation Serif', serif" font-size="8.8" font-weight="bold" fill="#111" text-anchor="end">
<text x="179.3" y="312.3">0</text>
<text x="179.3" y="301.2">50</text>
<text x="179.3" y="290.1">100</text>
<text x="179.3" y="279.1">150</text>
<text x="179.3" y="268.0">200</text>
</g>
<g stroke="#101018" stroke-opacity="0.8" stroke-width="0.5" stroke-linejoin="round">
<polygon points="230.7,291.1 236.6,294.8 236.6,286.6 230.7,282.9" fill="#f8ee25"/>
<polygon points="236.6,294.8 244.3,291.9 244.3,283.7 236.6,286.6" fill="#f8ee25"/>
<polygon points="230.7,282.9 236.6,286.6 244.3,283.7 238.4,280.0" fill="#f8ee25"/>
<polygon points="220.8,294.8 226.7,298.6 226.7,279.3 220.8,275.5" fill="#f6b846"/>
<polygon points="226.7,298.6 234.4,295.6 234.4,276.4 226.7,279.3" fill="#f6b846"/>
<polygon points="220.8,275.5 226.7,279.3 234.4,276.4 228.6,272.6" fill="#f6b846"/>
<polygon points="211.0,298.5 216.8,302.3 216.8,289.4 211.0,285.7" fill="#86cd8f"/>
<polygon points="216.8,302.3 224.5,299.4 224.5,286.5 216.8,289.4" fill="#86cd8f"/>
<polygon points="211.0,285.7 216.8,289.4 224.5,286.5 218.7,282.8" fill="#86cd8f"/>
<polygon points="201.1,302.2 206.9,306.0 206.9,294.5 201.1,290.7" fill="#22b4c9"/>
<polygon points="206.9,306.0 214.6,303.1 214.6,291.6 206.9,294.5" fill="#22b4c9"/>
<polygon points="201.1,290.7 206.9,294.5 214.6,291.6 208.8,287.8" fill="#22b4c9"/>
<polygon points="191.2,306.0 197.0,309.7 197.0,303.1 191.2,299.3" fill="#2b87ee"/>
<polygon points="197.0,309.7 204.8,306.8 204.8,300.2 197.0,303.1" fill="#2b87ee"/>
<polygon points="191.2,299.3 197.0,303.1 204.8,300.2 198.9,296.4" fill="#2b87ee"/>
<polygon points="181.3,309.7 187.2,313.4 194.9,310.5 189.0,306.8" fill="#2e2597"/>
<polygon points="238.2,295.9 244.0,299.7 244.0,297.4 238.2,293.7" fill="#f8ee25"/>
<polygon points="244.0,299.7 251.8,296.7 251.8,294.5 244.0,297.4" fill="#f8ee25"/>
<polygon points="238.2,293.7 244.0,297.4 251.8,294.5 245.9,290.8" fill="#f8ee25"/>
<polygon points="228.3,299.6 234.2,303.4 234.2,296.1 228.3,292.3" fill="#f6b846"/>
<polygon points="234.2,303.4 241.9,300.5 241.9,293.2 234.2,296.1" fill="#f6b846"/>
<polygon points="228.3,292.3 234.2,296.1 241.9,293.2 236.0,289.4" fill="#f6b846"/>
<polygon points="218.4,303.3 224.3,307.1 224.3,294.9 218.4,291.1" fill="#86cd8f"/>
<polygon points="224.3,307.1 232.0,304.2 232.0,292.0 224.3,294.9" fill="#86cd8f"/>
<polygon points="218.4,291.1 224.3,294.9 232.0,292.0 226.2,288.2" fill="#86cd8f"/>
<polygon points="208.6,307.1 214.4,310.8 214.4,302.0 208.6,298.2" fill="#22b4c9"/>
<polygon points="214.4,310.8 222.1,307.9 222.1,299.0 214.4,302.0" fill="#22b4c9"/>
<polygon points="208.6,298.2 214.4,302.0 222.1,299.0 216.3,295.3" fill="#22b4c9"/>
<polygon points="198.7,310.8 204.5,314.5 204.5,305.7 198.7,301.9" fill="#2b87ee"/>
<polygon points="204.5,314.5 212.2,311.6 212.2,302.8 204.5,305.7" fill="#2b87ee"/>
<polygon points="198.7,301.9 204.5,305.7 212.2,302.8 206.4,299.0" fill="#2b87ee"/>
<polygon points="188.8,314.5 194.6,318.3 194.6,301.0 188.8,297.2" fill="#2e2597"/>
<polygon points="194.6,318.3 202.4,315.3 202.4,298.1 194.6,301.0" fill="#2e2597"/>
<polygon points="188.8,297.2 194.6,301.0 202.4,298.1 196.5,294.3" fill="#2e2597"/>
<polygon points="245.7,300.7 251.5,304.5 251.5,303.4 245.7,299.6" fill="#f8ee25"/>
<polygon points="251.5,304.5 259.2,301.6 259.2,300.5 251.5,303.4" fill="#f8ee25"/>
<polygon points="245.7,299.6 251.5,303.4 259.2,300.5 253.4,296.7" fill="#f8ee25"/>
<polygon points="235.8,304.4 241.6,308.2 241.6,303.8 235.8,300.0" fill="#f6b846"/>
<polygon points="241.6,308.2 249.4,305.3 249.4,300.9 241.6,303.8" fill="#f6b846"/>
<polygon points="235.8,300.0 241.6,303.8 249.4,300.9 243.5,297.1" fill="#f6b846"/>
<polygon points="225.9,308.2 231.8,311.9 231.8,305.3 225.9,301.5" fill="#86cd8f"/>
<polygon points="231.8,311.9 239.5,309.0 239.5,302.4 231.8,305.3" fill="#86cd8f"/>
<polygon points="225.9,301.5 231.8,305.3 239.5,302.4 233.6,298.6" fill="#86cd8f"/>
<polygon points="216.0,311.9 221.9,315.6 221.9,306.8 216.0,303.0" fill="#22b4c9"/>
<polygon points="221.9,315.6 229.6,312.7 229.6,303.9 221.9,306.8" fill="#22b4c9"/>
<polygon points="216.0,303.0 221.9,306.8 229.6,303.9 223.8,300.1" fill="#22b4c9"/>
<polygon points="206.2,315.6 212.0,319.4 212.0,295.7 206.2,291.9" fill="#2b87ee"/>
<polygon points="212.0,319.4 219.7,316.4 219.7,292.7 212.0,295.7" fill="#2b87ee"/>
<polygon points="206.2,291.9 212.0,295.7 219.7,292.7 213.9,289.0" fill="#2b87ee"/>
<polygon points="196.3,319.3 202.1,323.1 202.1,295.2 196.3,291.4" fill="#2e2597"/>
<polygon points="202.1,323.1 209.8,320.2 209.8,292.3 202.1,295.2" fill="#2e2597"/>
<polygon points="196.3,291.4 202.1,295.2 209.8,292.3 204.0,288.5" fill="#2e2597"/>
<polygon points="253.2,305.5 259.0,309.3 259.0,308.2 253.2,304.4" fill="#f8ee25"/>
<polygon points="259.0,309.3 266.7,306.4 266.7,305.3 259.0,308.2" fill="#f8ee25"/>
<polygon points="253.2,304.4 259.0,308.2 266.7,305.3 260.9,301.5" fill="#f8ee25"/>
<polygon points="243.3,309.3 249.1,313.0 249.1,308.6 243.3,304.8" fill="#f6b846"/>
<polygon points="249.1,313.0 256.8,310.1 256.8,305.7 249.1,308.6" fill="#f6b846"/>
<polygon points="243.3,304.8 249.1,308.6 256.8,305.7 251.0,301.9" fill="#f6b846"/>
<polygon points="233.4,313.0 239.2,316.7 239.2,310.1 233.4,306.3" fill="#86cd8f"/>
<polygon points="239.2,316.7 247.0,313.8 247.0,307.2 239.2,310.1" fill="#86cd8f"/>
<polygon points="233.4,306.3 239.2,310.1 247.0,307.2 241.1,303.4" fill="#86cd8f"/>
<polygon points="223.5,316.7 229.4,320.5 229.4,311.6 223.5,307.8" fill="#22b4c9"/>
<polygon points="229.4,320.5 237.1,317.5 237.1,308.7 229.4,311.6" fill="#22b4c9"/>
<polygon points="223.5,307.8 229.4,311.6 237.1,308.7 231.2,304.9" fill="#22b4c9"/>
<polygon points="213.6,320.4 219.5,324.2 219.5,301.1 213.6,297.4" fill="#2b87ee"/>
<polygon points="219.5,324.2 227.2,321.3 227.2,298.2 219.5,301.1" fill="#2b87ee"/>
<polygon points="213.6,297.4 219.5,301.1 227.2,298.2 221.4,294.5" fill="#2b87ee"/>
<polygon points="203.8,324.1 209.6,327.9 209.6,321.0 203.8,317.3" fill="#2e2597"/>
<polygon points="209.6,327.9 217.3,325.0 217.3,318.1 209.6,321.0" fill="#2e2597"/>
<polygon points="203.8,317.3 209.6,321.0 217.3,318.1 211.5,314.4" fill="#2e2597"/>
<polygon points="260.6,310.4 266.5,314.1 266.5,292.8 260.6,289.1" fill="#f8ee25"/>
<polygon points="266.5,314.1 274.2,311.2 274.2,289.9 266.5,292.8" fill="#f8ee25"/>
<polygon points="260.6,289.1 266.5,292.8 274.2,289.9 268.4,286.2" fill="#f8ee25"/>
<polygon points="250.8,314.1 256.6,317.8 256.6,287.0 250.8,283.3" fill="#f6b846"/>
<polygon points="256.6,317.8 264.3,314.9 264.3,284.1 256.6,287.0" fill="#f6b846"/>
<polygon points="250.8,283.3 256.6,287.0 264.3,284.1 258.5,280.4" fill="#f6b846"/>
<polygon points="240.9,317.8 246.7,321.6 246.7,287.7 240.9,283.9" fill="#86cd8f"/>
<polygon points="246.7,321.6 254.4,318.6 254.4,284.8 246.7,287.7" fill="#86cd8f"/>
<polygon points="240.9,283.9 246.7,287.7 254.4,284.8 248.6,281.0" fill="#86cd8f"/>
<polygon points="231.0,321.5 236.8,325.3 236.8,293.6 231.0,289.8" fill="#22b4c9"/>
<polygon points="236.8,325.3 244.6,322.4 244.6,290.7 236.8,293.6" fill="#22b4c9"/>
<polygon points="231.0,289.8 236.8,293.6 244.6,290.7 238.7,286.9" fill="#22b4c9"/>
<polygon points="221.1,325.2 227.0,329.0 227.0,326.8 221.1,323.0" fill="#2b87ee"/>
<polygon points="227.0,329.0 234.7,326.1 234.7,323.9 227.0,326.8" fill="#2b87ee"/>
<polygon points="221.1,323.0 227.0,326.8 234.7,323.9 228.8,320.1" fill="#2b87ee"/>
<polygon points="211.2,329.0 217.1,332.7 224.8,329.8 219.0,326.0" fill="#2e2597"/>
<polygon points="268.1,315.2 274.0,318.9 281.7,316.0 275.8,312.3" fill="#f8ee25"/>
<polygon points="258.2,318.9 264.1,322.7 271.8,319.7 266.0,316.0" fill="#f6b846"/>
<polygon points="248.4,322.6 254.2,326.4 254.2,296.9 248.4,293.2" fill="#86cd8f"/>
<polygon points="254.2,326.4 261.9,323.5 261.9,294.0 254.2,296.9" fill="#86cd8f"/>
<polygon points="248.4,293.2 254.2,296.9 261.9,294.0 256.1,290.2" fill="#86cd8f"/>
<polygon points="238.5,326.3 244.3,330.1 244.3,315.5 238.5,311.7" fill="#22b4c9"/>
<polygon points="244.3,330.1 252.0,327.2 252.0,312.6 244.3,315.5" fill="#22b4c9"/>
<polygon points="238.5,311.7 244.3,315.5 252.0,312.6 246.2,308.8" fill="#22b4c9"/>
<polygon points="228.6,330.1 234.4,333.8 234.4,325.4 228.6,321.6" fill="#2b87ee"/>
<polygon points="234.4,333.8 242.2,330.9 242.2,322.5 234.4,325.4" fill="#2b87ee"/>
<polygon points="228.6,321.6 234.4,325.4 242.2,322.5 236.3,318.7" fill="#2b87ee"/>
<polygon points="218.7,333.8 224.6,337.5 232.3,334.6 226.4,330.9" fill="#2e2597"/>
</g>
<text transform="translate(160.8 301.6) rotate(-90)" text-anchor="middle" font-family="'Liberation Serif', serif" font-weight="bold" font-size="9.05" fill="#111">Grey level</text>
<g font-family="'Liberation Serif', serif" font-size="8.3" font-style="italic" font-weight="bold" fill="#111" text-anchor="middle">
<text x="182.1" y="315.8">x<tspan font-size="4.6" dy="1.2" dx="-0.4">1</tspan></text>
<text x="189.6" y="320.6">x<tspan font-size="4.6" dy="1.2" dx="-0.4">2</tspan></text>
<text x="197.1" y="325.4">x<tspan font-size="4.6" dy="1.2" dx="-0.4">3</tspan></text>
<text x="204.5" y="330.3">x<tspan font-size="4.6" dy="1.2" dx="-0.4">4</tspan></text>
<text x="212.0" y="335.1">x<tspan font-size="4.6" dy="1.2" dx="-0.4">5</tspan></text>
<text x="219.5" y="339.9">x<tspan font-size="4.6" dy="1.2" dx="-0.4">6</tspan></text>
<text x="232.7" y="340.6">y<tspan font-size="4.6" dy="1.2" dx="-0.4">1</tspan></text>
<text x="242.6" y="336.9">y<tspan font-size="4.6" dy="1.2" dx="-0.4">2</tspan></text>
<text x="252.5" y="333.2">y<tspan font-size="4.6" dy="1.2" dx="-0.4">3</tspan></text>
<text x="262.3" y="329.4">y<tspan font-size="4.6" dy="1.2" dx="-0.4">4</tspan></text>
<text x="272.2" y="325.7">y<tspan font-size="4.6" dy="1.2" dx="-0.4">5</tspan></text>
<text x="282.1" y="322.0">y<tspan font-size="4.6" dy="1.2" dx="-0.4">6</tspan></text>
</g>
<rect x="301.6" y="256.8" width="122.0" height="87.4" fill="#fff" stroke="#3a3ac6" stroke-width="1.25"/>
<g stroke="#444" stroke-width="0.5" fill="none">
<path d="M323.6 309.8V265.2"/>
<path d="M323.6 309.8h-1.8"/>
<path d="M323.6 298.7h-1.8"/>
<path d="M323.6 287.5h-1.8"/>
<path d="M323.6 276.4h-1.8"/>
<path d="M323.6 265.2h-1.8"/>
</g>
<g font-family="'Liberation Serif', serif" font-size="8.8" font-weight="bold" fill="#111" text-anchor="end">
<text x="320.6" y="312.7">0</text>
<text x="318.0" y="301.6">50</text>
<text x="318.0" y="290.4">100</text>
<text x="318.0" y="279.2">150</text>
<text x="318.0" y="268.1">200</text>
</g>
<g stroke="#101018" stroke-opacity="0.8" stroke-width="0.5" stroke-linejoin="round">
<polygon points="371.0,291.5 376.8,295.3 384.2,292.5 378.4,288.7" fill="#f8ee25"/>
<polygon points="361.5,295.2 367.2,298.9 367.2,294.5 361.5,290.7" fill="#f6b846"/>
<polygon points="367.2,298.9 374.7,296.1 374.7,291.6 367.2,294.5" fill="#f6b846"/>
<polygon points="361.5,290.7 367.2,294.5 374.7,291.6 368.9,287.9" fill="#f6b846"/>
<polygon points="352.0,298.8 357.7,302.6 357.7,293.7 352.0,289.9" fill="#86cd8f"/>
<polygon points="357.7,302.6 365.2,299.7 365.2,290.8 357.7,293.7" fill="#86cd8f"/>
<polygon points="352.0,289.9 357.7,293.7 365.2,290.8 359.4,287.1" fill="#86cd8f"/>
<polygon points="342.4,302.5 348.2,306.2 348.2,279.2 342.4,275.5" fill="#22b4c9"/>
<polygon points="348.2,306.2 355.6,303.4 355.6,276.4 348.2,279.2" fill="#22b4c9"/>
<polygon points="342.4,275.5 348.2,279.2 355.6,276.4 349.9,272.6" fill="#22b4c9"/>
<polygon points="332.9,306.1 338.7,309.9 338.7,292.9 332.9,289.2" fill="#2b87ee"/>
<polygon points="338.7,309.9 346.1,307.0 346.1,290.1 338.7,292.9" fill="#2b87ee"/>
<polygon points="332.9,289.2 338.7,292.9 346.1,290.1 340.4,286.3" fill="#2b87ee"/>
<polygon points="323.4,309.7 329.2,313.5 336.6,310.7 330.8,306.9" fill="#2e2597"/>
<polygon points="378.4,296.3 384.1,300.1 391.6,297.3 385.8,293.5" fill="#f8ee25"/>
<polygon points="368.9,300.0 374.6,303.7 374.6,297.7 368.9,294.0" fill="#f6b846"/>
<polygon points="374.6,303.7 382.1,300.9 382.1,294.9 374.6,297.7" fill="#f6b846"/>
<polygon points="368.9,294.0 374.6,297.7 382.1,294.9 376.3,291.1" fill="#f6b846"/>
<polygon points="359.3,303.6 365.1,307.4 365.1,284.2 359.3,280.4" fill="#86cd8f"/>
<polygon points="365.1,307.4 372.5,304.5 372.5,281.3 365.1,284.2" fill="#86cd8f"/>
<polygon points="359.3,280.4 365.1,284.2 372.5,281.3 366.8,277.6" fill="#86cd8f"/>
<polygon points="349.8,307.3 355.6,311.0 355.6,286.9 349.8,283.2" fill="#22b4c9"/>
<polygon points="355.6,311.0 363.0,308.2 363.0,284.1 355.6,286.9" fill="#22b4c9"/>
<polygon points="349.8,283.2 355.6,286.9 363.0,284.1 357.3,280.3" fill="#22b4c9"/>
<polygon points="340.3,310.9 346.1,314.7 346.1,305.7 340.3,302.0" fill="#2b87ee"/>
<polygon points="346.1,314.7 353.5,311.8 353.5,302.9 346.1,305.7" fill="#2b87ee"/>
<polygon points="340.3,302.0 346.1,305.7 353.5,302.9 347.7,299.1" fill="#2b87ee"/>
<polygon points="330.8,314.5 336.5,318.3 336.5,314.9 330.8,311.2" fill="#2e2597"/>
<polygon points="336.5,318.3 344.0,315.5 344.0,312.1 336.5,314.9" fill="#2e2597"/>
<polygon points="330.8,311.2 336.5,314.9 344.0,312.1 338.2,308.4" fill="#2e2597"/>
<polygon points="385.8,301.1 391.5,304.9 391.5,300.4 385.8,296.7" fill="#f8ee25"/>
<polygon points="391.5,304.9 399.0,302.1 399.0,297.6 391.5,300.4" fill="#f8ee25"/>
<polygon points="385.8,296.7 391.5,300.4 399.0,297.6 393.2,293.8" fill="#f8ee25"/>
<polygon points="376.2,304.8 382.0,308.5 382.0,276.2 376.2,272.5" fill="#f6b846"/>
<polygon points="382.0,308.5 389.4,305.7 389.4,273.4 382.0,276.2" fill="#f6b846"/>
<polygon points="376.2,272.5 382.0,276.2 389.4,273.4 383.7,269.6" fill="#f6b846"/>
<polygon points="366.7,308.4 372.5,312.2 372.5,307.3 366.7,303.5" fill="#86cd8f"/>
<polygon points="372.5,312.2 379.9,309.3 379.9,304.4 372.5,307.3" fill="#86cd8f"/>
<polygon points="366.7,303.5 372.5,307.3 379.9,304.4 374.2,300.7" fill="#86cd8f"/>
<polygon points="357.2,312.1 363.0,315.8 363.0,313.6 357.2,309.8" fill="#22b4c9"/>
<polygon points="363.0,315.8 370.4,313.0 370.4,310.7 363.0,313.6" fill="#22b4c9"/>
<polygon points="357.2,309.8 363.0,313.6 370.4,310.7 364.6,307.0" fill="#22b4c9"/>
<polygon points="347.7,315.7 353.4,319.5 353.4,309.4 347.7,305.7" fill="#2b87ee"/>
<polygon points="353.4,319.5 360.9,316.6 360.9,306.6 353.4,309.4" fill="#2b87ee"/>
<polygon points="347.7,305.7 353.4,309.4 360.9,306.6 355.1,302.8" fill="#2b87ee"/>
<polygon points="338.2,319.3 343.9,323.1 343.9,311.5 338.2,307.8" fill="#2e2597"/>
<polygon points="343.9,323.1 351.4,320.3 351.4,308.7 343.9,311.5" fill="#2e2597"/>
<polygon points="338.2,307.8 343.9,311.5 351.4,308.7 345.6,304.9" fill="#2e2597"/>
<polygon points="393.1,305.9 398.9,309.7 398.9,278.5 393.1,274.7" fill="#f8ee25"/>
<polygon points="398.9,309.7 406.3,306.9 406.3,275.6 398.9,278.5" fill="#f8ee25"/>
<polygon points="393.1,274.7 398.9,278.5 406.3,275.6 400.6,271.9" fill="#f8ee25"/>
<polygon points="383.6,309.6 389.4,313.3 389.4,281.0 383.6,277.3" fill="#f6b846"/>
<polygon points="389.4,313.3 396.8,310.5 396.8,278.2 389.4,281.0" fill="#f6b846"/>
<polygon points="383.6,277.3 389.4,281.0 396.8,278.2 391.1,274.4" fill="#f6b846"/>
<polygon points="374.1,313.2 379.9,317.0 379.9,304.5 374.1,300.7" fill="#86cd8f"/>
<polygon points="379.9,317.0 387.3,314.1 387.3,301.6 379.9,304.5" fill="#86cd8f"/>
<polygon points="374.1,300.7 379.9,304.5 387.3,301.6 381.5,297.9" fill="#86cd8f"/>
<polygon points="364.6,316.9 370.3,320.6 370.3,319.5 364.6,315.8" fill="#22b4c9"/>
<polygon points="370.3,320.6 377.8,317.8 377.8,316.7 370.3,319.5" fill="#22b4c9"/>
<polygon points="364.6,315.8 370.3,319.5 377.8,316.7 372.0,312.9" fill="#22b4c9"/>
<polygon points="355.1,320.5 360.8,324.3 360.8,319.8 355.1,316.0" fill="#2b87ee"/>
<polygon points="360.8,324.3 368.3,321.4 368.3,317.0 360.8,319.8" fill="#2b87ee"/>
<polygon points="355.1,316.0 360.8,319.8 368.3,317.0 362.5,313.2" fill="#2b87ee"/>
<polygon points="345.5,324.1 351.3,327.9 351.3,315.4 345.5,311.7" fill="#2e2597"/>
<polygon points="351.3,327.9 358.7,325.1 358.7,312.6 351.3,315.4" fill="#2e2597"/>
<polygon points="345.5,311.7 351.3,315.4 358.7,312.6 353.0,308.8" fill="#2e2597"/>
<polygon points="400.5,310.7 406.3,314.5 413.7,311.7 408.0,307.9" fill="#f8ee25"/>
<polygon points="391.0,314.4 396.8,318.1 396.8,287.6 391.0,283.8" fill="#f6b846"/>
<polygon points="396.8,318.1 404.2,315.3 404.2,284.7 396.8,287.6" fill="#f6b846"/>
<polygon points="391.0,283.8 396.8,287.6 404.2,284.7 398.4,281.0" fill="#f6b846"/>
<polygon points="381.5,318.0 387.2,321.8 387.2,302.8 381.5,299.1" fill="#86cd8f"/>
<polygon points="387.2,321.8 394.7,318.9 394.7,300.0 387.2,302.8" fill="#86cd8f"/>
<polygon points="381.5,299.1 387.2,302.8 394.7,300.0 388.9,296.2" fill="#86cd8f"/>
<polygon points="372.0,321.7 377.7,325.4 385.2,322.6 379.4,318.8" fill="#22b4c9"/>
<polygon points="362.4,325.3 368.2,329.1 368.2,320.8 362.4,317.1" fill="#2b87ee"/>
<polygon points="368.2,329.1 375.6,326.2 375.6,318.0 368.2,320.8" fill="#2b87ee"/>
<polygon points="362.4,317.1 368.2,320.8 375.6,318.0 369.9,314.2" fill="#2b87ee"/>
<polygon points="352.9,328.9 358.7,332.7 358.7,313.3 352.9,309.5" fill="#2e2597"/>
<polygon points="358.7,332.7 366.1,329.9 366.1,310.5 358.7,313.3" fill="#2e2597"/>
<polygon points="352.9,309.5 358.7,313.3 366.1,310.5 360.4,306.7" fill="#2e2597"/>
<polygon points="407.9,315.5 413.7,319.3 421.1,316.5 415.3,312.7" fill="#f8ee25"/>
<polygon points="398.4,319.2 404.1,322.9 404.1,301.7 398.4,298.0" fill="#f6b846"/>
<polygon points="404.1,322.9 411.6,320.1 411.6,298.9 404.1,301.7" fill="#f6b846"/>
<polygon points="398.4,298.0 404.1,301.7 411.6,298.9 405.8,295.2" fill="#f6b846"/>
<polygon points="388.9,322.8 394.6,326.6 394.6,316.8 388.9,313.0" fill="#86cd8f"/>
<polygon points="394.6,326.6 402.1,323.7 402.1,313.9 394.6,316.8" fill="#86cd8f"/>
<polygon points="388.9,313.0 394.6,316.8 402.1,313.9 396.3,310.2" fill="#86cd8f"/>
<polygon points="379.3,326.5 385.1,330.2 385.1,329.5 379.3,325.8" fill="#22b4c9"/>
<polygon points="385.1,330.2 392.5,327.4 392.5,326.7 385.1,329.5" fill="#22b4c9"/>
<polygon points="379.3,325.8 385.1,329.5 392.5,326.7 386.8,323.0" fill="#22b4c9"/>
<polygon points="369.8,330.1 375.6,333.9 375.6,324.5 369.8,320.7" fill="#2b87ee"/>
<polygon points="375.6,333.9 383.0,331.0 383.0,321.6 375.6,324.5" fill="#2b87ee"/>
<polygon points="369.8,320.7 375.6,324.5 383.0,321.6 377.3,317.9" fill="#2b87ee"/>
<polygon points="360.3,333.7 366.1,337.5 366.1,329.9 360.3,326.2" fill="#2e2597"/>
<polygon points="366.1,337.5 373.5,334.7 373.5,327.1 366.1,329.9" fill="#2e2597"/>
<polygon points="360.3,326.2 366.1,329.9 373.5,327.1 367.7,323.3" fill="#2e2597"/>
</g>
<text transform="translate(433.5 300.1) rotate(-90)" text-anchor="middle" font-family="'Liberation Serif', serif" font-weight="bold" font-size="9.05" fill="#111">Grey level</text>
<g font-family="'Liberation Serif', serif" font-size="8.3" font-style="italic" font-weight="bold" fill="#111" text-anchor="middle">
<text x="322.6" y="316.6">x<tspan font-size="4.6" dy="1.2" dx="-0.4">1</tspan></text>
<text x="330.0" y="321.2">x<tspan font-size="4.6" dy="1.2" dx="-0.4">2</tspan></text>
<text x="337.4" y="325.8">x<tspan font-size="4.6" dy="1.2" dx="-0.4">3</tspan></text>
<text x="344.8" y="330.4">x<tspan font-size="4.6" dy="1.2" dx="-0.4">4</tspan></text>
<text x="352.2" y="335.0">x<tspan font-size="4.6" dy="1.2" dx="-0.4">5</tspan></text>
<text x="359.6" y="339.6">x<tspan font-size="4.6" dy="1.2" dx="-0.4">6</tspan></text>
<text x="375.6" y="340.4">y<tspan font-size="4.6" dy="1.2" dx="-0.4">1</tspan></text>
<text x="384.5" y="337.0">y<tspan font-size="4.6" dy="1.2" dx="-0.4">2</tspan></text>
<text x="393.4" y="333.6">y<tspan font-size="4.6" dy="1.2" dx="-0.4">3</tspan></text>
<text x="402.3" y="330.2">y<tspan font-size="4.6" dy="1.2" dx="-0.4">4</tspan></text>
<text x="411.2" y="326.8">y<tspan font-size="4.6" dy="1.2" dx="-0.4">5</tspan></text>
<text x="420.1" y="323.4">y<tspan font-size="4.6" dy="1.2" dx="-0.4">6</tspan></text>
</g>
<path d="M113.3 320.3L97.5 262.6" stroke="#111" stroke-width="1.1" fill="none"/>
<polygon points="95.8,256.4 101.0,262.9 97.5,262.6 94.6,264.6" fill="#111"/>
<path d="M113.3 320.3L167.1 182.3" stroke="#111" stroke-width="1.1" fill="none"/>
<polygon points="169.4,176.3 169.7,184.6 167.1,182.3 163.6,182.2" fill="#111"/>
<path d="M194.8 186.3L212.0 196.8" stroke="#111" stroke-width="1.1" fill="none"/>
<polygon points="217.5,200.2 209.3,199.0 212.0,196.8 212.7,193.4" fill="#111"/>
<path d="M194.8 186.3L222.9 250.5" stroke="#111" stroke-width="1.1" fill="none"/>
<polygon points="225.5,256.4 219.4,250.8 222.9,250.5 225.5,248.1" fill="#111"/>
<path d="M294.0 39.0L299.1 71.4" stroke="#111" stroke-width="1.1" fill="none"/>
<polygon points="300.1,77.8 295.7,70.8 299.1,71.4 302.2,69.8" fill="#111"/>
<path d="M294.0 39.0L346.4 57.5" stroke="#111" stroke-width="1.1" fill="none"/>
<polygon points="352.5,59.6 344.2,60.2 346.4,57.5 346.4,54.0" fill="#111"/>
<path d="M390.8 178.5L371.6 191.6" stroke="#111" stroke-width="1.1" fill="none"/>
<polygon points="366.3,195.3 370.7,188.3 371.6,191.6 374.4,193.7" fill="#111"/>
<path d="M390.8 178.5L365.1 250.3" stroke="#111" stroke-width="1.1" fill="none"/>
<polygon points="362.9,256.4 362.4,248.1 365.1,250.3 368.6,250.4" fill="#111"/>
<path d="M110.7 317.7l5.2 5.2m0 -5.2l-5.2 5.2" stroke="#15159a" stroke-width="1.2" fill="none"/>
<path d="M192.2 183.7l5.2 5.2m0 -5.2l-5.2 5.2" stroke="#15159a" stroke-width="1.2" fill="none"/>
<path d="M291.4 36.4l5.2 5.2m0 -5.2l-5.2 5.2" stroke="#15159a" stroke-width="1.2" fill="none"/>
<path d="M388.2 175.9l5.2 5.2m0 -5.2l-5.2 5.2" stroke="#15159a" stroke-width="1.2" fill="none"/>
<circle cx="102.3" cy="322.5" r="6.85" fill="none" stroke="#2626bc" stroke-width="1.1"/>
<text x="102.3" y="325.4" text-anchor="middle" font-family="'Liberation Serif', serif" font-weight="bold" font-size="8.8" fill="#2020c0">1</text>
<circle cx="187.1" cy="186.3" r="6.85" fill="none" stroke="#2626bc" stroke-width="1.1"/>
<text x="187.1" y="189.2" text-anchor="middle" font-family="'Liberation Serif', serif" font-weight="bold" font-size="8.8" fill="#2020c0">2</text>
<circle cx="293.9" cy="32.3" r="6.85" fill="none" stroke="#2626bc" stroke-width="1.1"/>
<text x="293.9" y="35.2" text-anchor="middle" font-family="'Liberation Serif', serif" font-weight="bold" font-size="8.8" fill="#2020c0">3</text>
<circle cx="402.7" cy="165.2" r="6.85" fill="none" stroke="#2626bc" stroke-width="1.1"/>
<text x="402.7" y="168.1" text-anchor="middle" font-family="'Liberation Serif', serif" font-weight="bold" font-size="8.8" fill="#2020c0">4</text>
</svg>
</body></html>
